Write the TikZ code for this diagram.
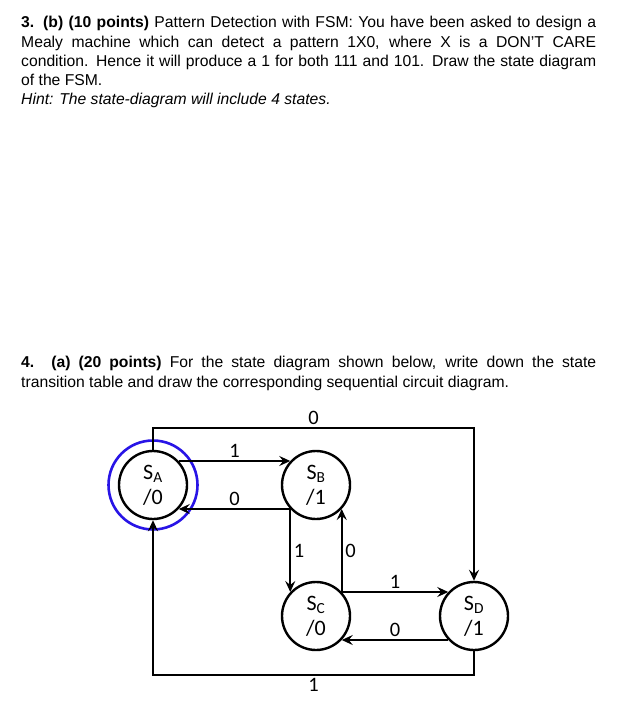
\documentclass[tikz,border=0pt]{standalone}
\usepackage{fontspec}
\setmainfont{Liberation Sans}
\newfontfamily\diagfont{Carlito}
\usetikzlibrary{arrows.meta}
\definecolor{ringblue}{RGB}{40,20,230}
\begin{document}
\begin{tikzpicture}[x=1pt,y=-1pt,
  state/.style={circle, draw, line width=2.4pt, minimum size=68pt, inner sep=0pt,
    font=\diagfont\fontsize{22}{25}\selectfont, align=center},
  ring/.style={circle, draw=ringblue, line width=2.6pt, minimum size=89pt, inner sep=0pt},
  arr/.style={line width=2.4pt, -{Stealth[length=11pt,width=10pt,inset=4pt]}},
  lbl/.style={font=\diagfont\fontsize{20.5}{24}\selectfont, inner sep=2.5pt},
  para/.style={anchor=north west, inner sep=0pt, text width=575pt, align=justify,
    font=\fontsize{15.7}{19.3}\selectfont}]
\useasboundingbox (0,0) rectangle (626,711);

\node[para] (q3) at (21,14) {\strut\textbf{3. (b) (10 points)} Pattern Detection with FSM: You have been asked to design a\linebreak Mealy machine which can detect a pattern 1X0, where X is a DON’T CARE\linebreak condition. Hence it will produce a 1 for both 111 and 101. Draw the state diagram\linebreak of the FSM.\\ \textit{Hint: The state-diagram will include 4 states.}};

\node[para] (q4) at (21,354) {\strut\textbf{4. (a) (20 points)} For the state diagram shown below, write down the state\linebreak transition table and draw the corresponding sequential circuit diagram.};

\node[state] (A) at (153,485) {S\textsubscript{A}\\/0};
\node[ring] (R) at (A) {};
\node[state] (B) at (316,485) {S\textsubscript{B}\\/1};
\node[state] (C) at (316,616) {S\textsubscript{C}\\/0};
\node[state] (D) at (474,616) {S\textsubscript{D}\\/1};

\coordinate (topy) at (0,428);
\coordinate (boty) at (0,675);

\draw[arr] (A.north) -- (A.north |- topy) -| node[lbl, above, pos=0.25] {0} (D.north);
\draw[arr] (A.43) -- node[lbl, above] {1} (B.137);
\draw[arr] (B.-137) -- node[lbl, above] {0} (A.-43);
\draw[arr] (B.-137) -- node[lbl, right] {1} (C.137);
\draw[arr] (C.43) -- node[lbl, right] {0} (B.-43);
\draw[arr] (C.43) -- node[lbl, above] {1} (D.137);
\draw[arr] (D.-137) -- node[lbl, above] {0} (C.-43);
\draw[arr] (D.south) -- (D.south |- boty) -| node[lbl, below, pos=0.25] {1} (A.south);
\end{tikzpicture}
\end{document}
